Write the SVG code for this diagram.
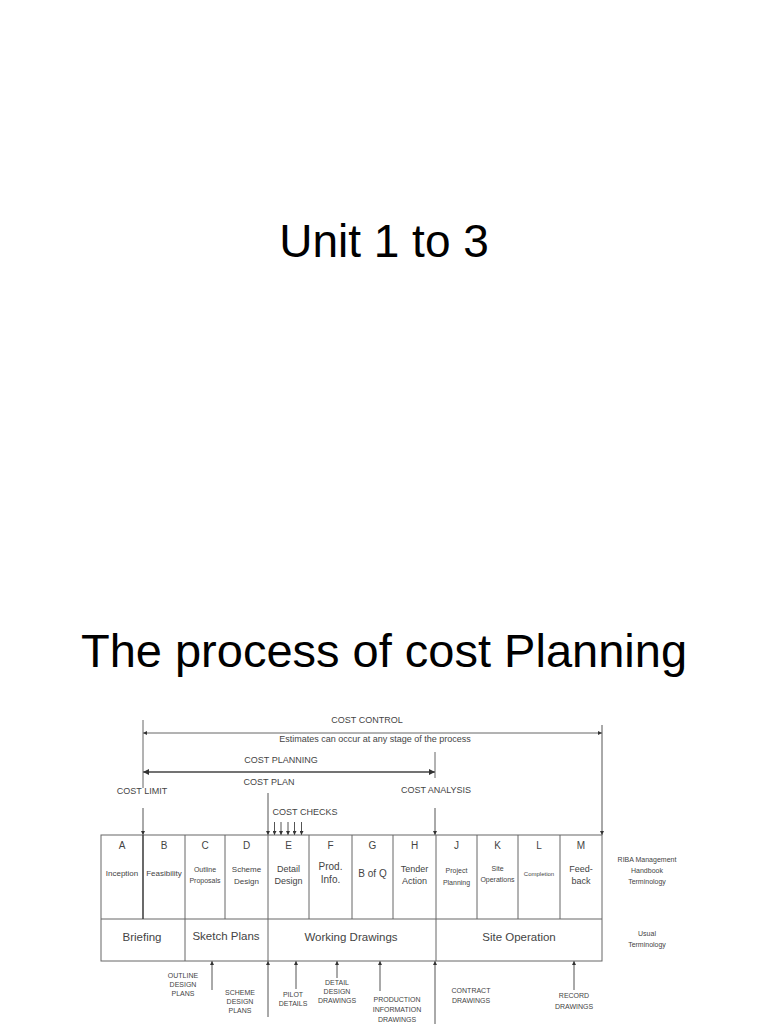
<svg xmlns="http://www.w3.org/2000/svg" width="768" height="1024" viewBox="0 0 768 1024">
<defs>
<marker id="ah" viewBox="0 0 10 10" refX="10" refY="5" markerWidth="4" markerHeight="4" orient="auto-start-reverse">
<path d="M0,0 L10,5 L0,10 z" fill="#333"/>
</marker>
</defs>
<style>
.title{font-family:"Liberation Sans",Arial,sans-serif;fill:#000;text-anchor:middle}
.t{font-family:"Liberation Sans",Arial,sans-serif;fill:#444;text-anchor:middle}
.s7{font-size:7px}
.s8{font-size:8px}
.s9{font-size:9px}
.s10{font-size:10px}
.s12{font-size:11.5px}
.ln{stroke:#666;stroke-width:1;fill:none}
.dk{stroke:#444;stroke-width:1.6;fill:none}
.ar{stroke:#555;stroke-width:1;fill:none;marker-end:url(#ah)}
.tb{stroke:#666;stroke-width:1;fill:none}
</style>
<rect width="768" height="1024" fill="#fff"/>
<text class="title" x="384" y="257" font-size="46">Unit 1 to 3</text>
<text class="title" x="384" y="667" font-size="47">The process of cost Planning</text>

<g id="connectors">
<line class="ln" x1="143" y1="733" x2="602" y2="733" marker-start="url(#ah)" marker-end="url(#ah)"/>
<line class="dk" x1="143" y1="772" x2="435" y2="772" marker-start="url(#ah)" marker-end="url(#ah)"/>
<line class="ln" x1="143" y1="720" x2="143" y2="788"/>
<line class="ar" x1="143" y1="808" x2="143" y2="835"/>
<line class="ar" x1="602" y1="725" x2="602" y2="835"/>
<line class="ln" x1="435" y1="752" x2="435" y2="778"/>
<line class="ar" x1="435" y1="808" x2="435" y2="835"/>
<line class="ar" x1="268" y1="793" x2="268" y2="835"/>
<line class="ar" x1="274.5" y1="822" x2="274.5" y2="835"/>
<line class="ar" x1="281" y1="822" x2="281" y2="835"/>
<line class="ar" x1="288" y1="822" x2="288" y2="835"/>
<line class="ar" x1="294.5" y1="822" x2="294.5" y2="835"/>
<line class="ar" x1="301.5" y1="822" x2="301.5" y2="835"/>
<line class="ar" x1="212" y1="990" x2="212" y2="961"/>
<line class="ar" x1="268" y1="1017" x2="268" y2="961"/>
<line class="ar" x1="296" y1="989" x2="296" y2="961"/>
<line class="ar" x1="337" y1="978" x2="337" y2="961"/>
<line class="ar" x1="380" y1="991" x2="380" y2="961"/>
<line class="ar" x1="435" y1="1024" x2="435" y2="961"/>
<line class="ar" x1="574" y1="990" x2="574" y2="961"/>
</g>

<g id="labels-top">
<text class="t s9" x="367" y="723">COST CONTROL</text>
<text class="t s9" x="375" y="742">Estimates can occur at any stage of the process</text>
<text class="t s9" x="281" y="763">COST PLANNING</text>
<text class="t s9" x="269" y="785">COST PLAN</text>
<text class="t s9" x="142" y="794">COST LIMIT</text>
<text class="t s9" x="436" y="793">COST ANALYSIS</text>
<text class="t s9" x="305" y="815">COST CHECKS</text>
</g>

<g id="table">
<rect class="tb" x="101" y="835" width="501" height="126"/>
<line class="tb" x1="101" y1="919" x2="602" y2="919"/>
<line class="tb" x1="185" y1="835" x2="185" y2="961"/>
<line class="tb" x1="225" y1="835" x2="225" y2="919"/>
<line class="tb" x1="268" y1="835" x2="268" y2="961"/>
<line class="tb" x1="309" y1="835" x2="309" y2="919"/>
<line class="tb" x1="352" y1="835" x2="352" y2="919"/>
<line class="tb" x1="393" y1="835" x2="393" y2="919"/>
<line class="tb" x1="436" y1="835" x2="436" y2="961"/>
<line class="tb" x1="477" y1="835" x2="477" y2="919"/>
<line class="tb" x1="518" y1="835" x2="518" y2="919"/>
<line class="tb" x1="560" y1="835" x2="560" y2="919"/>
<line class="dk" x1="143" y1="835" x2="143" y2="919"/>
</g>

<g id="stage-A"><text class="t s10" x="122" y="849">A</text><text class="t s8" x="122" y="876">Inception</text></g>
<g id="stage-B"><text class="t s10" x="164" y="849">B</text><text class="t s8" x="164" y="876">Feasibility</text></g>
<g id="stage-C"><text class="t s10" x="205" y="849">C</text><text class="t s7" x="205" y="872">Outline</text><text class="t s7" x="205" y="883">Proposals</text></g>
<g id="stage-D"><text class="t s10" x="246.5" y="849">D</text><text class="t s8" x="246.5" y="872">Scheme</text><text class="t s8" x="246.5" y="884">Design</text></g>
<g id="stage-E"><text class="t s10" x="288.5" y="849">E</text><text class="t s9" x="288.5" y="872">Detail</text><text class="t s9" x="288.5" y="884">Design</text></g>
<g id="stage-F"><text class="t s10" x="330.5" y="849">F</text><text class="t s10" x="330.5" y="870">Prod.</text><text class="t s10" x="330.5" y="883">Info.</text></g>
<g id="stage-G"><text class="t s10" x="372.5" y="849">G</text><text class="t s10" x="372.5" y="877">B of Q</text></g>
<g id="stage-H"><text class="t s10" x="414.5" y="849">H</text><text class="t s9" x="414.5" y="872">Tender</text><text class="t s9" x="414.5" y="884">Action</text></g>
<g id="stage-J"><text class="t s10" x="456.5" y="849">J</text><text class="t s7" x="456.5" y="873">Project</text><text class="t s7" x="456.5" y="885">Planning</text></g>
<g id="stage-K"><text class="t s10" x="497.5" y="849">K</text><text class="t s7" x="497.5" y="871">Site</text><text class="t s7" x="497.5" y="882">Operations</text></g>
<g id="stage-L"><text class="t s10" x="539" y="849">L</text><text class="t" font-size="6" x="539" y="876">Completion</text></g>
<g id="stage-M"><text class="t s10" x="581" y="849">M</text><text class="t s9" x="581" y="872">Feed-</text><text class="t s9" x="581" y="884">back</text></g>

<g id="row-terms">
<text class="t s12" x="142" y="941">Briefing</text>
<text class="t s12" x="226" y="940">Sketch Plans</text>
<text class="t s12" x="351" y="941">Working Drawings</text>
<text class="t s12" x="519" y="941">Site Operation</text>
</g>

<g id="side-labels">
<text class="t s7" x="647" y="862">RIBA Management</text>
<text class="t s7" x="647" y="873">Handbook</text>
<text class="t s7" x="647" y="884">Terminology</text>
<text class="t s7" x="647" y="936">Usual</text>
<text class="t s7" x="647" y="947">Terminology</text>
</g>

<g id="labels-bottom">
<text class="t s7" x="183" y="978">OUTLINE</text><text class="t s7" x="183" y="987">DESIGN</text><text class="t s7" x="183" y="996">PLANS</text>
<text class="t s7" x="240" y="995">SCHEME</text><text class="t s7" x="240" y="1004">DESIGN</text><text class="t s7" x="240" y="1013">PLANS</text>
<text class="t s7" x="293" y="997">PILOT</text><text class="t s7" x="293" y="1006">DETAILS</text>
<text class="t s7" x="337" y="985">DETAIL</text><text class="t s7" x="337" y="994">DESIGN</text><text class="t s7" x="337" y="1003">DRAWINGS</text>
<text class="t s7" x="397" y="1002">PRODUCTION</text><text class="t s7" x="397" y="1012">INFORMATION</text><text class="t s7" x="397" y="1022">DRAWINGS</text>
<text class="t s7" x="471" y="993">CONTRACT</text><text class="t s7" x="471" y="1003">DRAWINGS</text>
<text class="t s7" x="574" y="998">RECORD</text><text class="t s7" x="574" y="1009">DRAWINGS</text>
</g>
</svg>
